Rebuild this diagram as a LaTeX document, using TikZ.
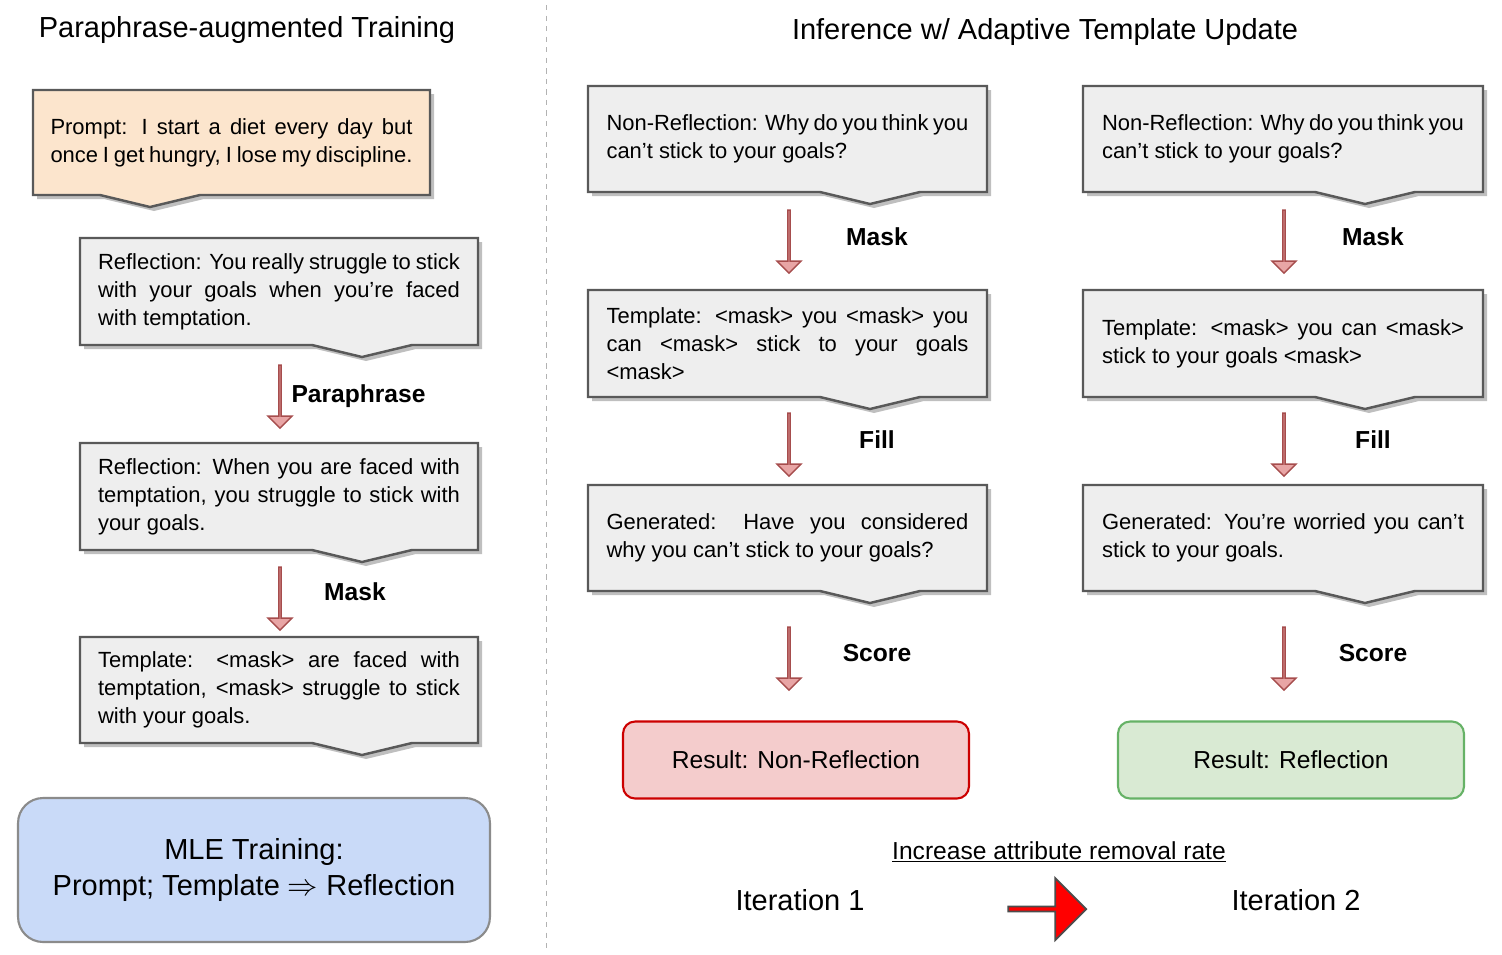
\documentclass[tikz,border=0pt]{standalone}
\usepackage{fontspec}
\setmainfont{Liberation Sans}
\usetikzlibrary{shapes.arrows,positioning}

\definecolor{boxgray}{HTML}{EEEEEE}
\definecolor{boxline}{HTML}{595959}
\definecolor{peach}{HTML}{FCE5CD}
\definecolor{arrowpink}{HTML}{E8A5A5}
\definecolor{arrowline}{HTML}{A64D4D}
\definecolor{mleblue}{HTML}{C9DAF8}
\definecolor{resred}{HTML}{F4CCCC}
\definecolor{resgreen}{HTML}{D9EAD3}

% callout box with a notch at the bottom: [fill]{name}{x1}{y1}{x2}{y2}{notch x}{text}
\newcommand\callout[8][boxgray]{%
  \fill[black,opacity=.25] ({#3+4},{#4+4}) -- ({#5+4},{#4+4}) -- ({#5+4},{#6+4})
    -- ({#7+54},{#6+4}) -- ({#7+4},{#6+16}) -- ({#7-46},{#6+4}) -- ({#3+4},{#6+4}) -- cycle;
  \draw[fill=#1,draw=boxline,line width=1.4pt] (#3,#4) -- (#5,#4) -- (#5,#6)
    -- ({#7+50},#6) -- (#7,{#6+12}) -- ({#7-50},#6) -- (#3,#6) -- cycle;
  \node[boxtext] (#2) at ({(#3+#5)/2},{(#4+#6)/2}) {#8};}

\begin{document}
\begin{tikzpicture}[x=0.02cm,y=-0.02cm]
    % Setup the styles
    \tikzset{
      boxtext/.style={text width=7.24cm,align=justify,
        font=\fontsize{12.5}{15.9}\selectfont},
      downarrow/.style={single arrow,shape border rotate=270,
        minimum height=1.26cm,minimum width=0.48cm,
        single arrow head extend=0.14cm,single arrow head indent=0pt,
        fill=arrowpink,draw=arrowline,line width=0.8pt,inner sep=0pt},
      stepname/.style={font=\bfseries\fontsize{14}{16}\selectfont},
      heading/.style={font=\fontsize{16.5}{19}\selectfont},
      resultbox/.style={rounded corners=12*0.02cm,line width=1.2pt,
        minimum width=6.92cm,minimum height=1.54cm,
        font=\fontsize{14}{16}\selectfont}}
    \useasboundingbox (0,0) rectangle (1502,954);

    % Titles and separator
    \node[heading] (ltitle) at (247,30) {Paraphrase-augmented Training};
    \node[heading] (rtitle) at (1045,32) {Inference w/ Adaptive Template Update};
    \draw[gray!60,dashed] (546,5) -- (546,950);

    % Left column
    \callout[peach]{prompt}{33}{90}{430}{195}{150}{Prompt: I start a diet every day but once I get hungry, I lose my discipline.}
    \callout{refa}{80}{238}{478}{345}{362}{Reflection: You really struggle to stick with your goals when you’re faced with temptation.}
    \callout{refb}{80}{443}{478}{550}{362}{Reflection: When you are faced with temptation, you struggle to stick with your goals.}
    \callout{ltemp}{80}{637}{478}{743}{362}{Template: <mask> are faced with temptation, <mask> struggle to stick with your goals.}
    \node[downarrow] (para) at (280,396) {};
    \node[stepname,right=2pt of para] {Paraphrase};
    \node[downarrow] (lmask) at (280,598) {};
    \node[stepname] at (355,592) {Mask};
    \node[draw=boxline!70,fill=mleblue,rounded corners=25*0.02cm,line width=1.2pt,
      minimum width=9.44cm,minimum height=2.88cm,align=center,
      font=\fontsize{16.5}{21}\selectfont] (mle) at (254,870)
      {MLE Training:\\Prompt; Template $\Rightarrow$ Reflection};

    % Iteration 1
    \callout{nra}{588}{86}{987}{192}{870}{Non-Reflection: Why do you think you can't stick to your goals?}
    \callout{tempa}{588}{290}{987}{397}{870}{Template: <mask> you <mask> you can <mask> stick to your goals <mask>}
    \callout{gena}{588}{485}{987}{591}{870}{Generated: Have you considered why you can’t stick to your goals?}
    \node[downarrow] (maska) at (789,241) {};
    \node[stepname] at (877,237) {Mask};
    \node[downarrow] (filla) at (789,444) {};
    \node[stepname] at (877,440) {Fill};
    \node[downarrow] (scorea) at (789,658) {};
    \node[stepname] at (877,653) {Score};
    \node[resultbox,draw=red!80!black,fill=resred] (resa) at (796,760) {Result: Non-Reflection};

    % Iteration 2
    \callout{nrb}{1083}{86}{1483}{192}{1365}{Non-Reflection: Why do you think you can't stick to your goals?}
    \callout{tempb}{1083}{290}{1483}{397}{1365}{Template: <mask> you can <mask> stick to your goals <mask>}
    \callout{genb}{1083}{485}{1483}{591}{1365}{Generated: You’re worried you can’t stick to your goals.}
    \node[downarrow] (maskb) at (1284,241) {};
    \node[stepname] at (1373,237) {Mask};
    \node[downarrow] (fillb) at (1284,444) {};
    \node[stepname] at (1373,440) {Fill};
    \node[downarrow] (scoreb) at (1284,658) {};
    \node[stepname] at (1373,653) {Score};
    \node[resultbox,draw=green!50!black!60,fill=resgreen] (resb) at (1291,760) {Result: Reflection};

    % Bottom
    \node[font=\fontsize{14}{16}\selectfont] (incr) at (1059,852) {\underline{Increase attribute removal rate}};
    \node[heading] (ita) at (800,900) {Iteration 1};
    \node[heading] (itb) at (1296,900) {Iteration 2};
    \node[single arrow,fill=red,draw=black!70,line width=1pt,minimum height=1.56cm,
      minimum width=1.24cm,single arrow head extend=0.2cm,single arrow head indent=0pt,
      inner sep=0pt] (next) at (1046,909) {};
\end{tikzpicture}
\end{document}
